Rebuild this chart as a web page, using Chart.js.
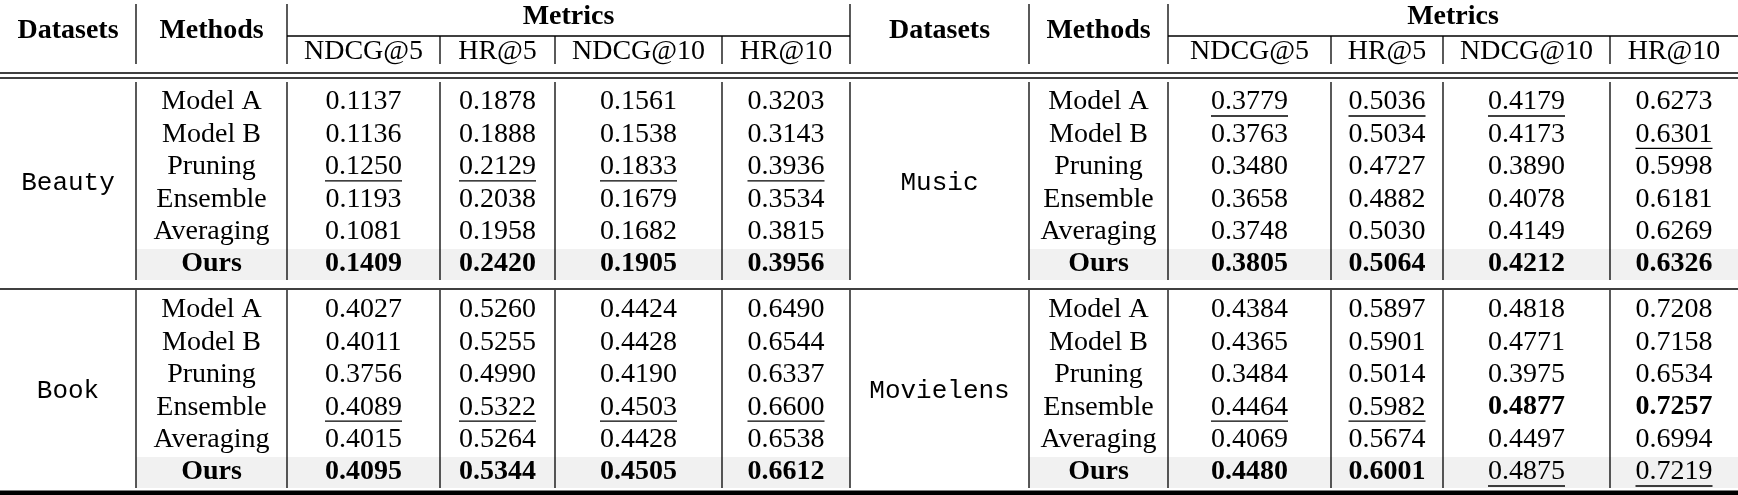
<!DOCTYPE html>
<html>
<head>
<meta charset="utf-8">
<script src="https://cdn.jsdelivr.net/npm/chart.js@4/dist/chart.umd.min.js"></script>
<style>
  body { margin: 0; background: #fff; }
  #wrap { width: 1738px; height: 495px; }
</style>
</head>
<body>
<div id="wrap"><canvas id="tbl" width="1738" height="495"></canvas></div>
<script>
const datasetNames = ['Beauty', 'Music', 'Book', 'Movielens'];
const methods = ['Model A', 'Model B', 'Pruning', 'Ensemble', 'Averaging', 'Ours'];
const metrics = ['NDCG@5', 'HR@5', 'NDCG@10', 'HR@10'];

const beauty = [
    [0.1137, 0.1878, 0.1561, 0.3203],
    [0.1136, 0.1888, 0.1538, 0.3143],
    [0.1250, 0.2129, 0.1833, 0.3936],
    [0.1193, 0.2038, 0.1679, 0.3534],
    [0.1081, 0.1958, 0.1682, 0.3815],
    [0.1409, 0.2420, 0.1905, 0.3956]
];
const music = [
    [0.3779, 0.5036, 0.4179, 0.6273],
    [0.3763, 0.5034, 0.4173, 0.6301],
    [0.3480, 0.4727, 0.3890, 0.5998],
    [0.3658, 0.4882, 0.4078, 0.6181],
    [0.3748, 0.5030, 0.4149, 0.6269],
    [0.3805, 0.5064, 0.4212, 0.6326]
];
const book = [
    [0.4027, 0.5260, 0.4424, 0.6490],
    [0.4011, 0.5255, 0.4428, 0.6544],
    [0.3756, 0.4990, 0.4190, 0.6337],
    [0.4089, 0.5322, 0.4503, 0.6600],
    [0.4015, 0.5264, 0.4428, 0.6538],
    [0.4095, 0.5344, 0.4505, 0.6612]
];
const movielens = [
    [0.4384, 0.5897, 0.4818, 0.7208],
    [0.4365, 0.5901, 0.4771, 0.7158],
    [0.3484, 0.5014, 0.3975, 0.6534],
    [0.4464, 0.5982, 0.4877, 0.7257],
    [0.4069, 0.5674, 0.4497, 0.6994],
    [0.4480, 0.6001, 0.4875, 0.7219]
];
const values = [beauty, music, book, movielens];

// layout: column edges of the left and right halves (in table units = px)
const halves = [
    [0, 136, 287, 440, 555, 722, 850],
    [850, 1029, 1168, 1331, 1443, 1610, 1738]
];
const rowStep = 32.4;
const blockTop = [102, 310];

const serif = '"Liberation Serif", "DejaVu Serif", serif';
const mono = '"Liberation Mono", "DejaVu Sans Mono", monospace';
const fs = '28px ';

const tablePlugin = {
    id: 'tablePlugin',
    afterDraw(chart) {
        const ctx = chart.ctx;
        const xs = chart.scales.x, ys = chart.scales.y;
        const X = v => xs.getPixelForValue(v);
        const Y = v => ys.getPixelForValue(v);
        ctx.save();
        ctx.textAlign = 'center';
        ctx.textBaseline = 'middle';
        ctx.fillStyle = '#000';
        ctx.strokeStyle = '#000';

        function text(s, x, y, font, underline) {
            ctx.font = font;
            ctx.fillText(s, X(x), Y(y));
            if (underline) {
                const w = ctx.measureText(s).width;
                ctx.lineWidth = 1.3;
                ctx.beginPath();
                ctx.moveTo(X(x) - w / 2, Y(y) + 14);
                ctx.lineTo(X(x) + w / 2, Y(y) + 14);
                ctx.stroke();
            }
        }
        function hline(x1, x2, y, w) {
            ctx.lineWidth = w;
            ctx.beginPath();
            ctx.moveTo(X(x1), Y(y));
            ctx.lineTo(X(x2), Y(y));
            ctx.stroke();
        }
        function vline(x, y1, y2) {
            ctx.lineWidth = 1.3;
            ctx.beginPath();
            ctx.moveTo(X(x), Y(y1));
            ctx.lineTo(X(x), Y(y2));
            ctx.stroke();
        }

        // gray bands behind "Ours"
        ctx.fillStyle = '#f1f1f1';
        halves.forEach(e => {
            blockTop.forEach(t => {
                const yc = t + 5 * rowStep;
                ctx.fillRect(X(e[1]), Y(yc - 15), X(e[6]) - X(e[1]), Y(yc + 16) - Y(yc - 15));
            });
        });
        ctx.fillStyle = '#000';

        // header
        halves.forEach(e => {
            const c = i => (e[i] + e[i + 1]) / 2;
            text('Datasets', c(0), 31, 'bold ' + fs + serif);
            text('Methods', c(1), 31, 'bold ' + fs + serif);
            text('Metrics', (e[2] + e[6]) / 2, 17, 'bold ' + fs + serif);
            metrics.forEach((m, i) => text(m, c(2 + i), 52, fs + serif));
            hline(e[2], e[6], 36, 1.3);
            vline(e[1], 4, 64);
            vline(e[2], 4, 64);
            for (let i = 3; i < 6; i++) vline(e[i], 36, 64);
            if (e[6] < 1738) vline(e[6], 4, 64);
        });
        hline(0, 1738, 73, 1.6);
        hline(0, 1738, 78, 1.6);
        hline(0, 1738, 289, 1.3);
        hline(0, 1738, 493, 5);

        // body
        values.forEach((vals, d) => {
            const e = halves[d % 2];
            const top = blockTop[Math.floor(d / 2)];
            const c = i => (e[i] + e[i + 1]) / 2;
            text(datasetNames[d], c(0), top + 2.5 * rowStep, '26px ' + mono);
            const best = [], second = [];
            metrics.forEach((m, j) => {
                const col = vals.map(r => r[j]).slice().sort((a, b) => b - a);
                best.push(col[0]); second.push(col[1]);
            });
            methods.forEach((m, r) => {
                const y = top + r * rowStep;
                text(m, c(1), y, (r === 5 ? 'bold ' : '') + fs + serif);
                vals[r].forEach((v, j) => {
                    const isBest = v === best[j];
                    const isSecond = v === second[j];
                    text(v.toFixed(4), c(2 + j), y, (isBest ? 'bold ' : '') + fs + serif, isSecond);
                });
            });
            const y1 = top - 20, y2 = top + 5 * rowStep + 16;
            for (let i = 1; i < 6; i++) vline(e[i], y1, y2);
            if (e[6] < 1738) vline(e[6], y1, y2);
        });
        ctx.restore();
    }
};

new Chart(document.getElementById('tbl'), {
    type: 'scatter',
    data: { datasets: [{ data: [], pointRadius: 0 }] },
    options: {
        responsive: false,
        animation: false,
        layout: { padding: 0 },
        plugins: { legend: { display: false }, tooltip: { enabled: false } },
        scales: {
            x: { type: 'linear', min: 0, max: 1738, display: false },
            y: { type: 'linear', min: 0, max: 495, reverse: true, display: false }
        }
    },
    plugins: [tablePlugin]
});
</script>
</body>
</html>
